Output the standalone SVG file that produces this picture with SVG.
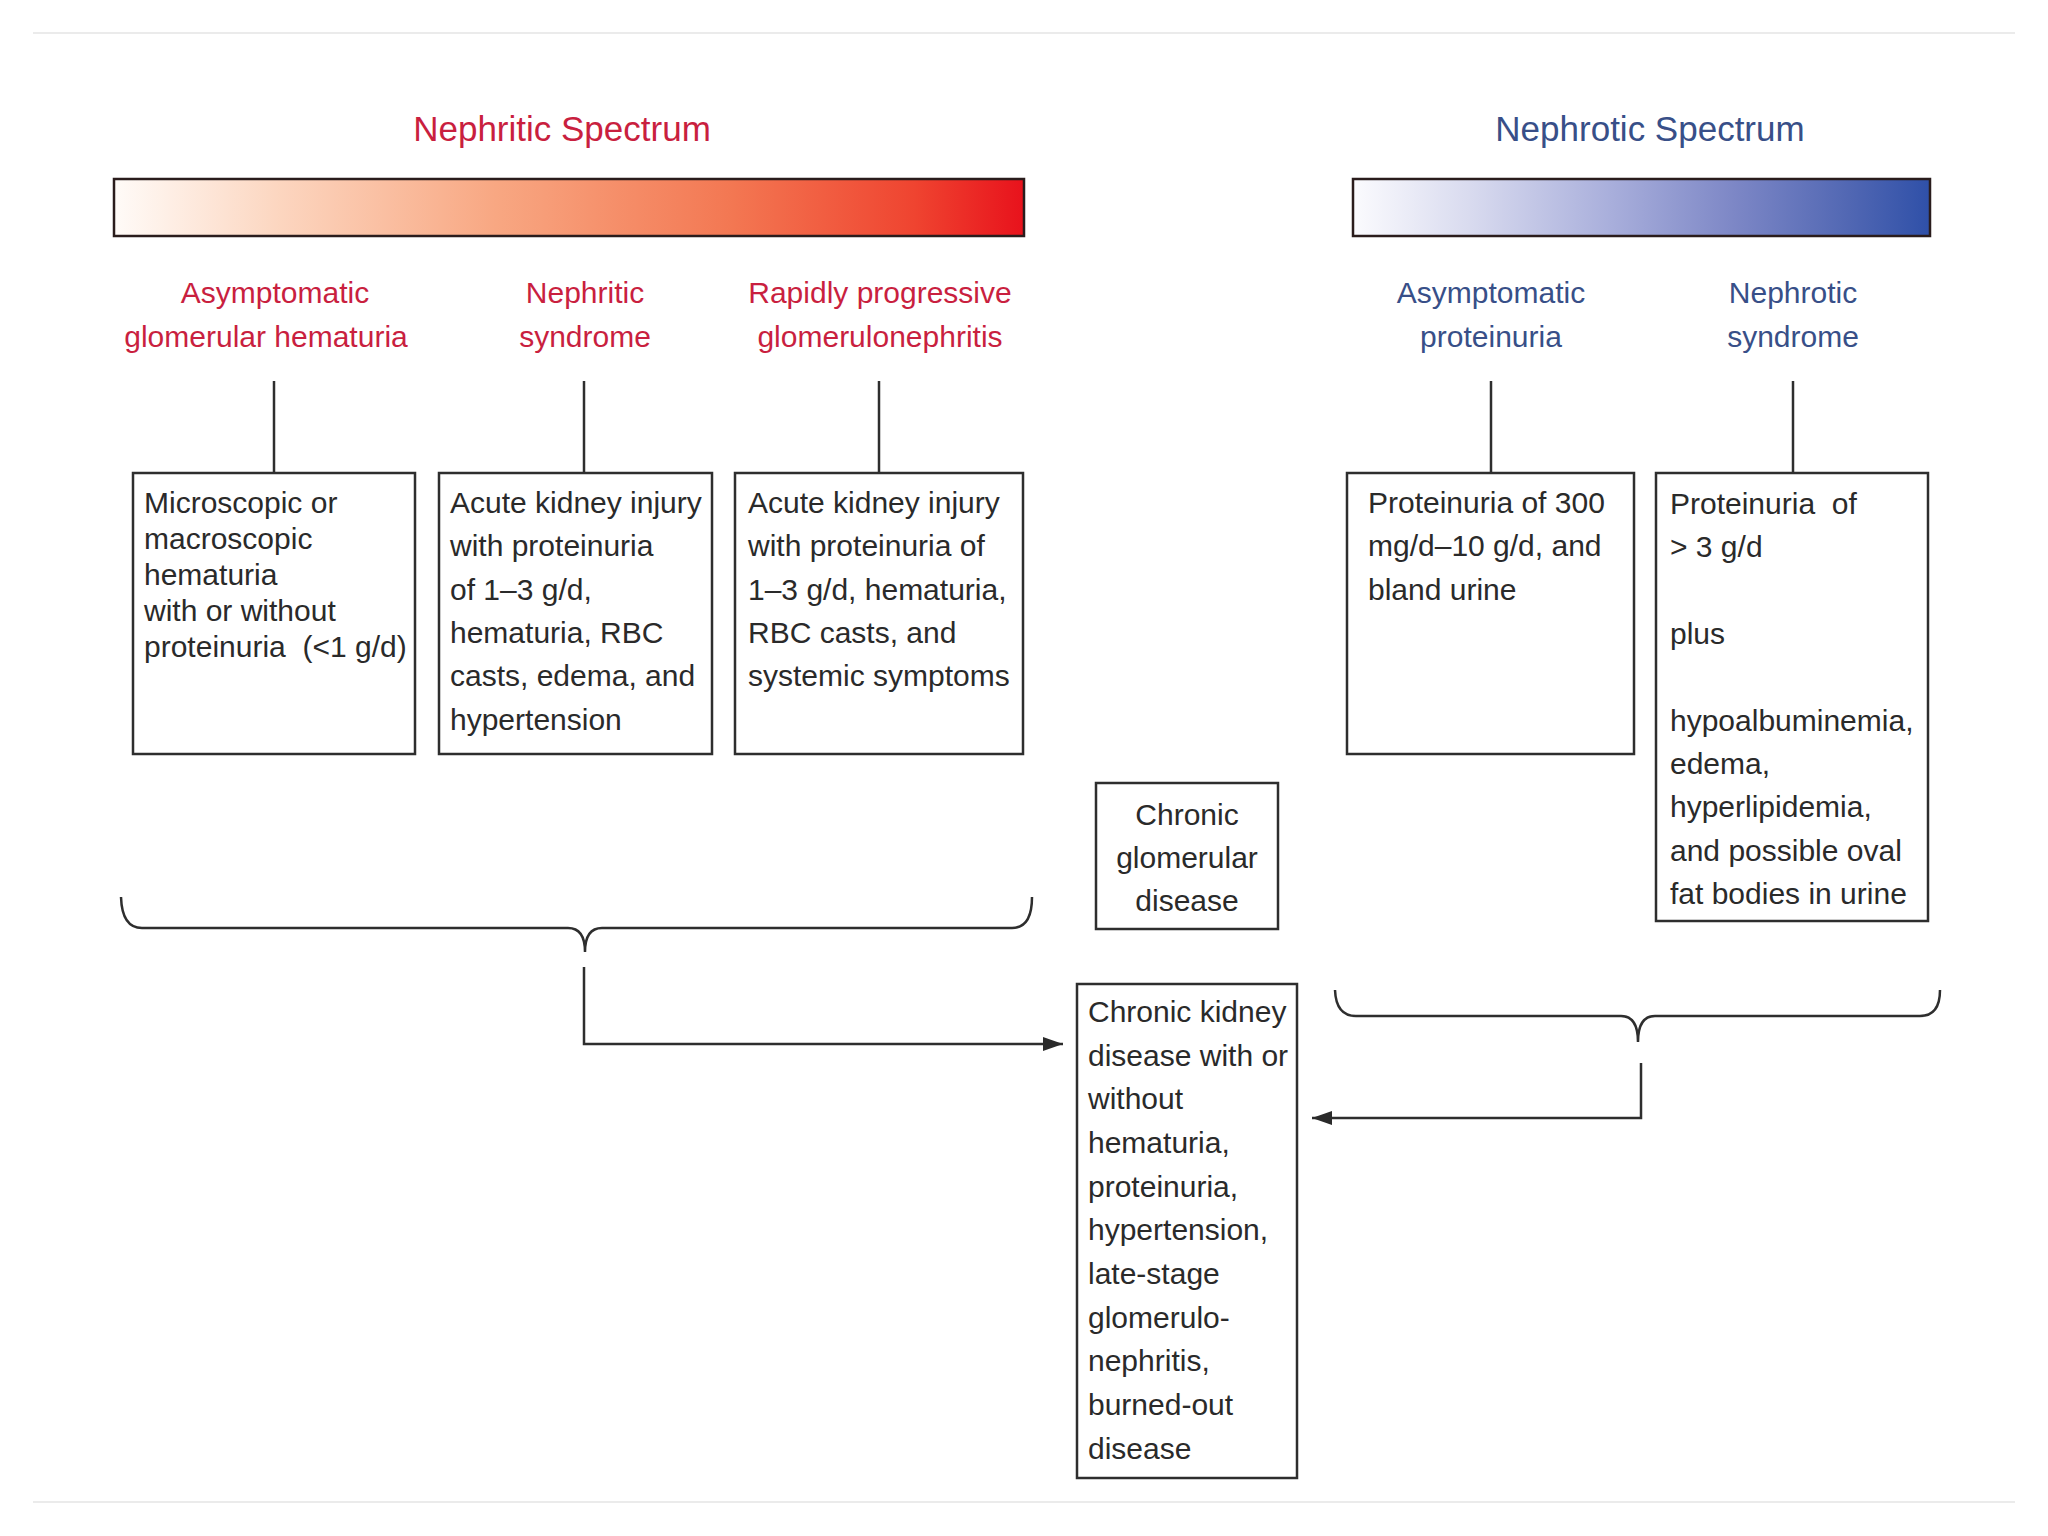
<svg xmlns="http://www.w3.org/2000/svg" width="2048" height="1536" viewBox="0 0 2048 1536">
<defs>
<linearGradient id="gRed" x1="0" y1="0" x2="1" y2="0">
<stop offset="0" stop-color="#fffbf8"/>
<stop offset="0.18" stop-color="#fcd6c0"/>
<stop offset="0.42" stop-color="#f8a782"/>
<stop offset="0.68" stop-color="#f37752"/>
<stop offset="0.88" stop-color="#ef4430"/>
<stop offset="1" stop-color="#e8121c"/>
</linearGradient>
<linearGradient id="gBlue" x1="0" y1="0" x2="1" y2="0">
<stop offset="0" stop-color="#fbfbfe"/>
<stop offset="0.2" stop-color="#d9dbef"/>
<stop offset="0.45" stop-color="#a8aedb"/>
<stop offset="0.66" stop-color="#7d87c6"/>
<stop offset="0.86" stop-color="#5167b3"/>
<stop offset="1" stop-color="#2f50a8"/>
</linearGradient>
<marker id="ah" viewBox="0 0 20 14" refX="20" refY="7" markerWidth="20" markerHeight="14" orient="auto" markerUnits="userSpaceOnUse">
<path d="M0,0 L20,7 L0,14 z" fill="#2a2a2a"/>
</marker>
<style>
.t{font-family:"Liberation Sans",Arial,sans-serif;font-size:30px;fill:#2a2a2a}
.red{font-family:"Liberation Sans",Arial,sans-serif;font-size:30px;fill:#c91f3f;text-anchor:middle}
.blue{font-family:"Liberation Sans",Arial,sans-serif;font-size:30px;fill:#384f88;text-anchor:middle}
.title{font-size:35px}
.c{text-anchor:middle}
.box{fill:#ffffff;stroke:#2e2e2e;stroke-width:2.5}
.bar{stroke:#2a1c1c;stroke-width:2.5}
.ln{fill:none;stroke:#2e2e2e;stroke-width:2.5}
.frame{stroke:#ebebeb;stroke-width:2}
</style>
</defs>
<rect width="2048" height="1536" fill="#ffffff"/>
<line class="frame" x1="33" y1="33" x2="2015" y2="33"/>
<line class="frame" x1="33" y1="1502" x2="2015" y2="1502"/>

<g id="nephritic-spectrum">
<text class="red title" x="562" y="141">Nephritic Spectrum</text>
<rect class="bar" x="114" y="179" width="910" height="57" fill="url(#gRed)"/>
</g>
<g id="nephrotic-spectrum">
<text class="blue title" x="1650" y="141">Nephrotic Spectrum</text>
<rect class="bar" x="1353" y="179" width="577" height="57" fill="url(#gBlue)"/>
</g>

<g id="label-asymptomatic-hematuria">
<text class="red" x="275" y="303">Asymptomatic</text>
<text class="red" x="266" y="347">glomerular hematuria</text>
</g>
<g id="label-nephritic-syndrome">
<text class="red" x="585" y="303">Nephritic</text>
<text class="red" x="585" y="347">syndrome</text>
</g>
<g id="label-rpgn">
<text class="red" x="880" y="303">Rapidly progressive</text>
<text class="red" x="880" y="347">glomerulonephritis</text>
</g>
<g id="label-asymptomatic-proteinuria">
<text class="blue" x="1491" y="303">Asymptomatic</text>
<text class="blue" x="1491" y="347">proteinuria</text>
</g>
<g id="label-nephrotic-syndrome">
<text class="blue" x="1793" y="303">Nephrotic</text>
<text class="blue" x="1793" y="347">syndrome</text>
</g>

<g id="box-hematuria">
<rect class="box" x="133" y="473" width="282" height="281"/>
<text class="t" x="144" y="513">Microscopic or</text>
<text class="t" x="144" y="549">macroscopic</text>
<text class="t" x="144" y="585">hematuria</text>
<text class="t" x="144" y="621">with or without</text>
<text class="t" x="144" y="657">proteinuria&#160; (&lt;1 g/d)</text>
</g>
<g id="box-nephritic">
<rect class="box" x="439" y="473" width="273" height="281"/>
<text class="t" x="450" y="513">Acute kidney injury</text>
<text class="t" x="450" y="556">with proteinuria</text>
<text class="t" x="450" y="600">of 1–3 g/d,</text>
<text class="t" x="450" y="643">hematuria, RBC</text>
<text class="t" x="450" y="686">casts, edema, and</text>
<text class="t" x="450" y="730">hypertension</text>
</g>
<g id="box-rpgn">
<rect class="box" x="735" y="473" width="288" height="281"/>
<text class="t" x="748" y="513">Acute kidney injury</text>
<text class="t" x="748" y="556">with proteinuria of</text>
<text class="t" x="748" y="600">1–3 g/d, hematuria,</text>
<text class="t" x="748" y="643">RBC casts, and</text>
<text class="t" x="748" y="686">systemic symptoms</text>
</g>
<g id="box-asymptomatic-proteinuria">
<rect class="box" x="1347" y="473" width="287" height="281"/>
<text class="t" x="1368" y="513">Proteinuria of 300</text>
<text class="t" x="1368" y="556">mg/d–10 g/d, and</text>
<text class="t" x="1368" y="600">bland urine</text>
</g>
<g id="box-nephrotic">
<rect class="box" x="1656" y="473" width="272" height="448"/>
<text class="t" x="1670" y="514" xml:space="preserve">Proteinuria  of</text>
<text class="t" x="1670" y="557">&gt; 3 g/d</text>
<text class="t" x="1670" y="644">plus</text>
<text class="t" x="1670" y="731">hypoalbuminemia,</text>
<text class="t" x="1670" y="774">edema,</text>
<text class="t" x="1670" y="817">hyperlipidemia,</text>
<text class="t" x="1670" y="861">and possible oval</text>
<text class="t" x="1670" y="904">fat bodies in urine</text>
</g>
<g id="box-chronic-glomerular">
<rect class="box" x="1096" y="783" width="182" height="146"/>
<text class="t c" x="1187" y="825">Chronic</text>
<text class="t c" x="1187" y="868">glomerular</text>
<text class="t c" x="1187" y="911">disease</text>
</g>
<g id="box-ckd">
<rect class="box" x="1077" y="984" width="220" height="494"/>
<text class="t" x="1088" y="1022">Chronic kidney</text>
<text class="t" x="1088" y="1066">disease with or</text>
<text class="t" x="1088" y="1109">without</text>
<text class="t" x="1088" y="1153">hematuria,</text>
<text class="t" x="1088" y="1197">proteinuria,</text>
<text class="t" x="1088" y="1240">hypertension,</text>
<text class="t" x="1088" y="1284">late-stage</text>
<text class="t" x="1088" y="1328">glomerulo-</text>
<text class="t" x="1088" y="1371">nephritis,</text>
<text class="t" x="1088" y="1415">burned-out</text>
<text class="t" x="1088" y="1459">disease</text>
</g>

<g id="connectors">
<line class="ln" x1="274" y1="381" x2="274" y2="473"/>
<line class="ln" x1="584" y1="381" x2="584" y2="473"/>
<line class="ln" x1="879" y1="381" x2="879" y2="473"/>
<line class="ln" x1="1491" y1="381" x2="1491" y2="473"/>
<line class="ln" x1="1793" y1="381" x2="1793" y2="473"/>
<path class="ln" d="M121,897 Q122,928 142,928 L568,928 C578,928 585,935 585,952 C585,935 592,928 602,928 L1012,928 Q1032,928 1032,897"/>
<path class="ln" d="M1335,990 Q1336,1016 1356,1016 L1621,1016 C1631,1016 1638,1023 1638,1042 C1638,1023 1645,1016 1655,1016 L1920,1016 Q1940,1016 1940,990"/>
<path class="ln" d="M584,967 V1044 H1063" marker-end="url(#ah)"/>
<path class="ln" d="M1641,1063 V1118 H1312" marker-end="url(#ah)"/>
</g>
</svg>
